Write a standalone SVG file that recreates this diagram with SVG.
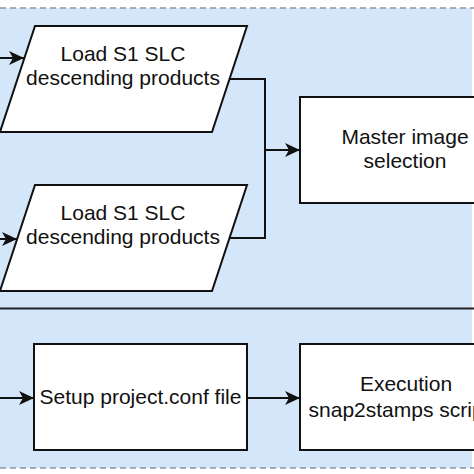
<svg xmlns="http://www.w3.org/2000/svg" width="474" height="474" viewBox="0 0 474 474">
<defs>
<style>
.node{fill:#ffffff;stroke:#111111;stroke-width:2}
.lbl{font-family:"Liberation Sans",Arial,sans-serif;font-size:21px;fill:#111111;text-anchor:middle}
.edge{fill:none;stroke:#111111;stroke-width:2}
.dash{stroke:#8a96a3;stroke-width:1.5;stroke-dasharray:6 4;fill:none}
</style>
<marker id="arr" markerUnits="userSpaceOnUse" markerWidth="16" markerHeight="14" refX="15" refY="7" orient="auto">
<path d="M0,0 L15,7 L0,14 L4,7 Z" fill="#111111"/>
</marker>
</defs>
<rect x="0" y="8" width="472" height="460" fill="#d4e6f9"/>
<line class="dash" x1="0" y1="8" x2="474" y2="8"/>
<line class="dash" x1="0" y1="468" x2="474" y2="468"/>
<line x1="0" y1="308.5" x2="474" y2="308.5" stroke="#222222" stroke-width="2"/>
<g id="connectors">
<line class="edge" x1="0" y1="58" x2="24" y2="58" marker-end="url(#arr)"/>
<line class="edge" x1="0" y1="239" x2="17" y2="239" marker-end="url(#arr)"/>
<polyline class="edge" points="230,79 265,79 265,238 230,238"/>
<line class="edge" x1="265" y1="150" x2="300" y2="150" marker-end="url(#arr)"/>
<line class="edge" x1="0" y1="398" x2="34" y2="398" marker-end="url(#arr)"/>
<line class="edge" x1="247" y1="398" x2="300" y2="398" marker-end="url(#arr)"/>
</g>
<g id="load1">
<polygon class="node" points="35,26 247,26 212,132 0,132"/>
<text class="lbl" x="123" y="61">Load S1 SLC</text>
<text class="lbl" x="123" y="85">descending products</text>
</g>
<g id="load2">
<polygon class="node" points="35,185 247,185 212,291 0,291"/>
<text class="lbl" x="123" y="220">Load S1 SLC</text>
<text class="lbl" x="123" y="244">descending products</text>
</g>
<g id="master">
<rect class="node" x="300" y="97" width="213" height="106"/>
<text class="lbl" x="405" y="144">Master image</text>
<text class="lbl" x="405" y="168">selection</text>
</g>
<g id="setup">
<rect class="node" x="34" y="344" width="213" height="106"/>
<text class="lbl" x="140.5" y="404">Setup project.conf file</text>
</g>
<g id="execution">
<rect class="node" x="300" y="344" width="213" height="106"/>
<text class="lbl" x="406" y="391">Execution</text>
<text class="lbl" x="399" y="417">snap2stamps script</text>
</g>
</svg>
